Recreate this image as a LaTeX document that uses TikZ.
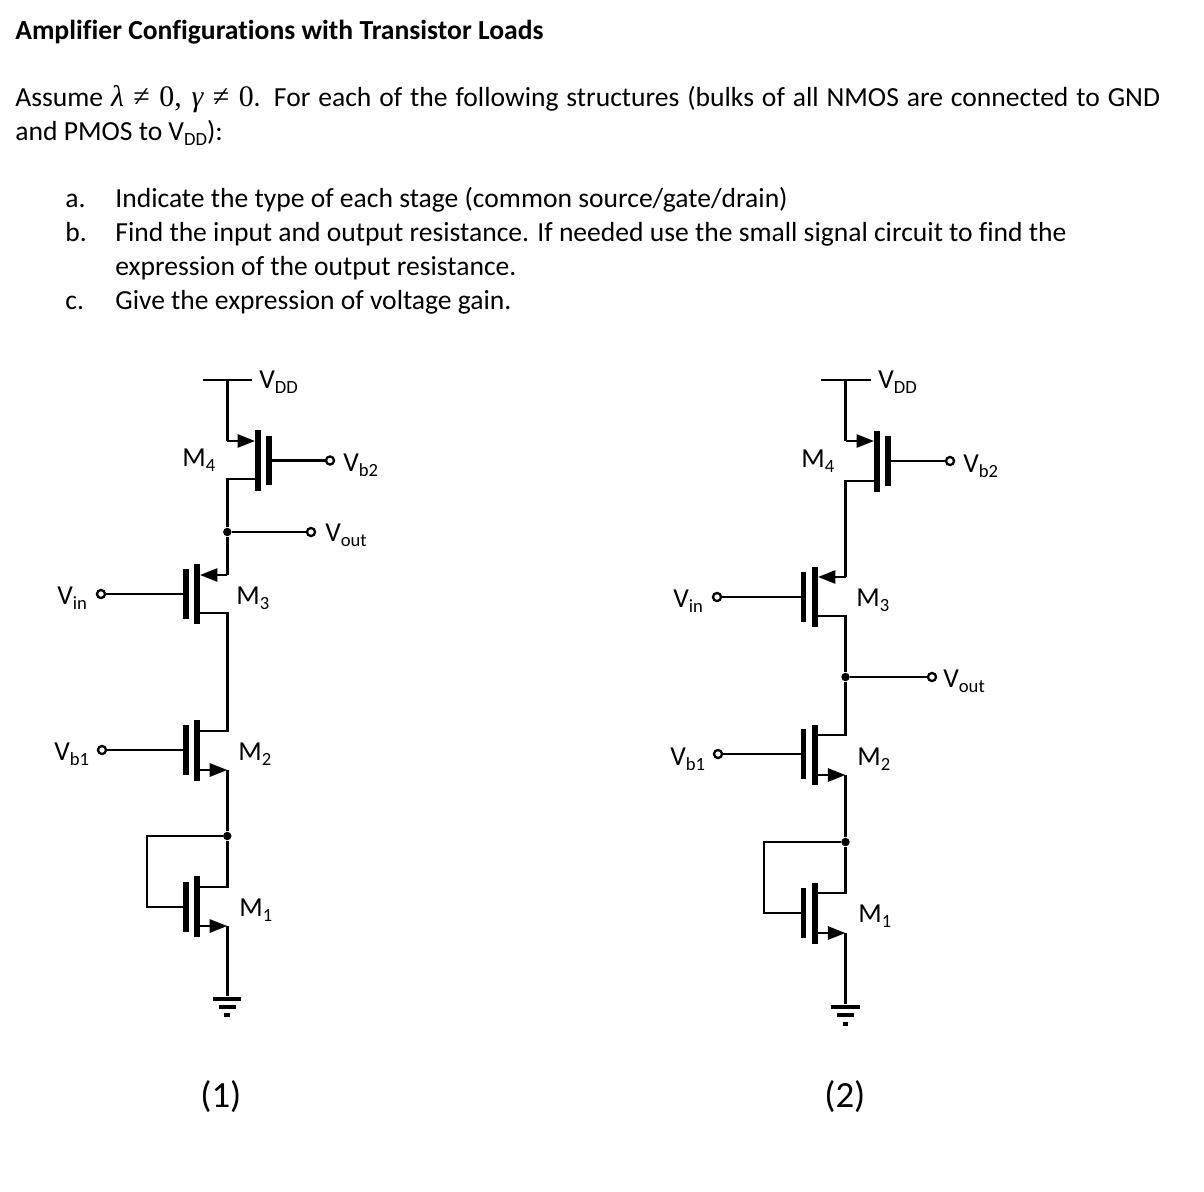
\documentclass[tikz,border=0pt]{standalone}
\usepackage{amsmath, amssymb}
\usepackage{fontspec}
\setmainfont[Ligatures=NoCommon]{Carlito}
\newfontfamily\symfont{Liberation Serif}
\usetikzlibrary{arrows.meta}
\newcommand{\lowtxt}[1]{\raisebox{-3.2pt}{\fontsize{10.6}{12}\selectfont #1}}
\tikzset{
  para/.style={anchor=base west, inner sep=0pt, font=\fontsize{15.7}{18}\selectfont},
  lbl/.style={anchor=base west, inner sep=0pt, font=\fontsize{15.6}{18}\selectfont},
  fig/.style={anchor=base west, inner sep=0pt, font=\fontsize{21}{24}\selectfont},
  wire/.style={line width=1.6pt, line join=miter},
  tip/.style={wire, -{Triangle[length=10pt,width=7.4pt]}},
  chan/.style={fill=black, inner sep=0pt, minimum width=2.9pt, minimum height=34.6pt},
  plate/.style={fill=black, inner sep=0pt, minimum width=2.9pt, minimum height=28.4pt},
  term/.style={circle, draw=black, fill=white, line width=1.3pt, inner sep=0pt, minimum size=4.6pt},
  dot/.style={circle, fill=black, inner sep=0pt, minimum size=4.8pt},
  gbar/.style={fill=black, inner sep=0pt},
}
\begin{document}
\begin{tikzpicture}[x=0.02cm,y=0.02cm]
        \useasboundingbox (0,0) rectangle (1204,-1191);
        % text above the circuits
        \node [para, font=\fontsize{15.7}{18}\selectfont\bfseries] (title) at (15,-39) {Amplifier Configurations with Transistor Loads};
        \node [para] (assume) at (15,-106) {\makebox[22.9cm][s]{Assume {\fontsize{17}{20}\symfont{\itshape λ} ≠ 0, {\itshape γ} ≠ 0}. For each of the following structures (bulks of all NMOS are connected to GND}};
        \node [para] (assumeb) at (15,-140) {and PMOS to V\lowtxt{DD}):};
        \node [para] (itema) at (65,-207) {a.};
        \node [para] (texta) at (115,-207) {Indicate the type of each stage (common source/gate/drain)};
        \node [para] (itemb) at (65,-241) {b.};
        \node [para] (textb) at (115,-241) {Find the input and output resistance. If needed use the small signal circuit to find the};
        \node [para] (textbb) at (115,-275) {expression of the output resistance.};
        \node [para] (itemc) at (65,-309) {c.};
        \node [para] (textc) at (115,-309) {Give the expression of voltage gain.};
        % circuit (1)
        \node [chan] (chfourA) at (258,-460.5) {};
        \node [plate] (plfourA) at (269,-460.5) {};
        \node [chan] (chthreeA) at (197,-594) {};
        \node [plate] (plthreeA) at (186,-594) {};
        \node [chan] (chtwoA) at (197,-750.5) {};
        \node [plate] (pltwoA) at (186,-750) {};
        \node [chan] (choneA) at (197,-906.5) {};
        \node [plate] (ploneA) at (186,-907) {};
        \coordinate (vddlA) at (203,-380);
        \coordinate (vddrA) at (252,-380);
        \coordinate (vddA) at (227.3,-380);
        \coordinate (sfourA) at (227.3,-441);
        \coordinate (dfourA) at (227.3,-479);
        \coordinate (sthreeA) at (227.3,-575);
        \coordinate (dthreeA) at (227.3,-613);
        \coordinate (dtwoA) at (227.3,-731);
        \coordinate (stwoA) at (227.3,-770);
        \coordinate (doneA) at (227.3,-887);
        \coordinate (soneA) at (227.3,-926);
        \coordinate (fbtopA) at (147,-836);
        \coordinate (fbbotA) at (147,-907);
        \node [term] (vbtwoA) at (330,-460.5) {};
        \node [term] (voutA) at (311,-532) {};
        \node [term] (vinA) at (101,-594) {};
        \node [term] (vboneA) at (102,-750) {};
        \node [dot] (joutA) at (227.3,-532) {};
        \node [dot] (jfbA) at (227.3,-836) {};
        \node [gbar, minimum width=16pt, minimum height=2.8pt] (gndaA) at (227.3,-999) {};
        \node [gbar, minimum width=10pt, minimum height=2.4pt] (gndbA) at (227.3,-1007) {};
        \node [gbar, minimum width=3.4pt, minimum height=2.8pt] (gndcA) at (227.3,-1015) {};
        \draw [wire] (vddlA) -- (vddrA);
        \draw [wire] (vddA) -- (sfourA);
        \draw [tip] (sfourA) -- (sfourA -| chfourA.west);
        \draw [wire] (plfourA) -- (vbtwoA);
        \draw [wire] (chfourA.west |- dfourA) -- (dfourA) -- (joutA);
        \draw [wire] (joutA) -- (voutA);
        \draw [wire] (joutA) -- (sthreeA);
        \draw [tip] (sthreeA) -- (sthreeA -| chthreeA.east);
        \draw [wire] (vinA) -- (plthreeA);
        \draw [wire] (chthreeA.east |- dthreeA) -- (dthreeA) -- (dtwoA) -- (dtwoA -| chtwoA.east);
        \draw [wire] (vboneA) -- (pltwoA);
        \draw [tip] (stwoA -| chtwoA.east) -- (stwoA);
        \draw [wire] (stwoA) -- (jfbA);
        \draw [wire] (jfbA) -- (fbtopA) -- (fbbotA) -- (ploneA);
        \draw [wire] (jfbA) -- (doneA) -- (doneA -| choneA.east);
        \draw [tip] (soneA -| choneA.east) -- (soneA);
        \draw [wire] (soneA) -- (gndaA);
        \node [lbl] (lvddA) at (259,-388) {V\lowtxt{DD}};
        \node [lbl] (lmfourA) at (182,-466) {M\lowtxt{4}};
        \node [lbl] (lvbtwoA) at (343,-471) {V\lowtxt{b2}};
        \node [lbl] (lvoutA) at (325,-541) {V\lowtxt{out}};
        \node [lbl] (lvinA) at (57,-604) {V\lowtxt{in}};
        \node [lbl] (lmthreeA) at (236,-604) {M\lowtxt{3}};
        \node [lbl] (lvboneA) at (54,-760) {V\lowtxt{b1}};
        \node [lbl] (lmtwoA) at (238,-760) {M\lowtxt{2}};
        \node [lbl] (lmoneA) at (239,-916) {M\lowtxt{1}};
        \node [fig] (figA) at (200,-1107) {(1)};
        % circuit (2)
        \node [chan] (chfourB) at (877,-461.5) {};
        \node [plate] (plfourB) at (888,-461) {};
        \node [chan] (chthreeB) at (815,-597) {};
        \node [plate] (plthreeB) at (803.5,-597) {};
        \node [chan] (chtwoB) at (815,-755) {};
        \node [plate] (pltwoB) at (803.5,-754) {};
        \node [chan] (choneB) at (815,-913.5) {};
        \node [plate] (ploneB) at (803.5,-913) {};
        \coordinate (vddlB) at (821,-380);
        \coordinate (vddrB) at (871,-380);
        \coordinate (vddB) at (845.5,-380);
        \coordinate (sfourB) at (845.5,-441);
        \coordinate (dfourB) at (845.5,-481);
        \coordinate (sthreeB) at (845.5,-577);
        \coordinate (dthreeB) at (845.5,-616);
        \coordinate (dtwoB) at (845.5,-735);
        \coordinate (stwoB) at (845.5,-775);
        \coordinate (doneB) at (845.5,-893);
        \coordinate (soneB) at (845.5,-933);
        \coordinate (fbtopB) at (764,-842);
        \coordinate (fbbotB) at (764,-913);
        \node [term] (vbtwoB) at (950,-461) {};
        \node [term] (voutB) at (932,-677) {};
        \node [term] (vinB) at (717,-597) {};
        \node [term] (vboneB) at (718,-754) {};
        \node [dot] (joutB) at (845.5,-677) {};
        \node [dot] (jfbB) at (845.5,-842) {};
        \node [gbar, minimum width=16pt, minimum height=2.8pt] (gndaB) at (845.5,-1007) {};
        \node [gbar, minimum width=10pt, minimum height=2.4pt] (gndbB) at (845.5,-1015) {};
        \node [gbar, minimum width=3.4pt, minimum height=2.8pt] (gndcB) at (845.5,-1024) {};
        \draw [wire] (vddlB) -- (vddrB);
        \draw [wire] (vddB) -- (sfourB);
        \draw [tip] (sfourB) -- (sfourB -| chfourB.west);
        \draw [wire] (plfourB) -- (vbtwoB);
        \draw [wire] (chfourB.west |- dfourB) -- (dfourB) -- (sthreeB);
        \draw [tip] (sthreeB) -- (sthreeB -| chthreeB.east);
        \draw [wire] (vinB) -- (plthreeB);
        \draw [wire] (chthreeB.east |- dthreeB) -- (dthreeB) -- (joutB);
        \draw [wire] (joutB) -- (voutB);
        \draw [wire] (joutB) -- (dtwoB) -- (dtwoB -| chtwoB.east);
        \draw [wire] (vboneB) -- (pltwoB);
        \draw [tip] (stwoB -| chtwoB.east) -- (stwoB);
        \draw [wire] (stwoB) -- (jfbB);
        \draw [wire] (jfbB) -- (fbtopB) -- (fbbotB) -- (ploneB);
        \draw [wire] (jfbB) -- (doneB) -- (doneB -| choneB.east);
        \draw [tip] (soneB -| choneB.east) -- (soneB);
        \draw [wire] (soneB) -- (gndaB);
        \node [lbl] (lvddB) at (878,-388) {V\lowtxt{DD}};
        \node [lbl] (lmfourB) at (801,-467) {M\lowtxt{4}};
        \node [lbl] (lvbtwoB) at (963,-472) {V\lowtxt{b2}};
        \node [lbl] (lvoutB) at (943,-687) {V\lowtxt{out}};
        \node [lbl] (lvinB) at (673,-607) {V\lowtxt{in}};
        \node [lbl] (lmthreeB) at (856,-606) {M\lowtxt{3}};
        \node [lbl] (lvboneB) at (670,-765) {V\lowtxt{b1}};
        \node [lbl] (lmtwoB) at (857,-765) {M\lowtxt{2}};
        \node [lbl] (lmoneB) at (858,-922) {M\lowtxt{1}};
        \node [fig] (figB) at (824,-1107) {(2)};
\end{tikzpicture}
\end{document}
